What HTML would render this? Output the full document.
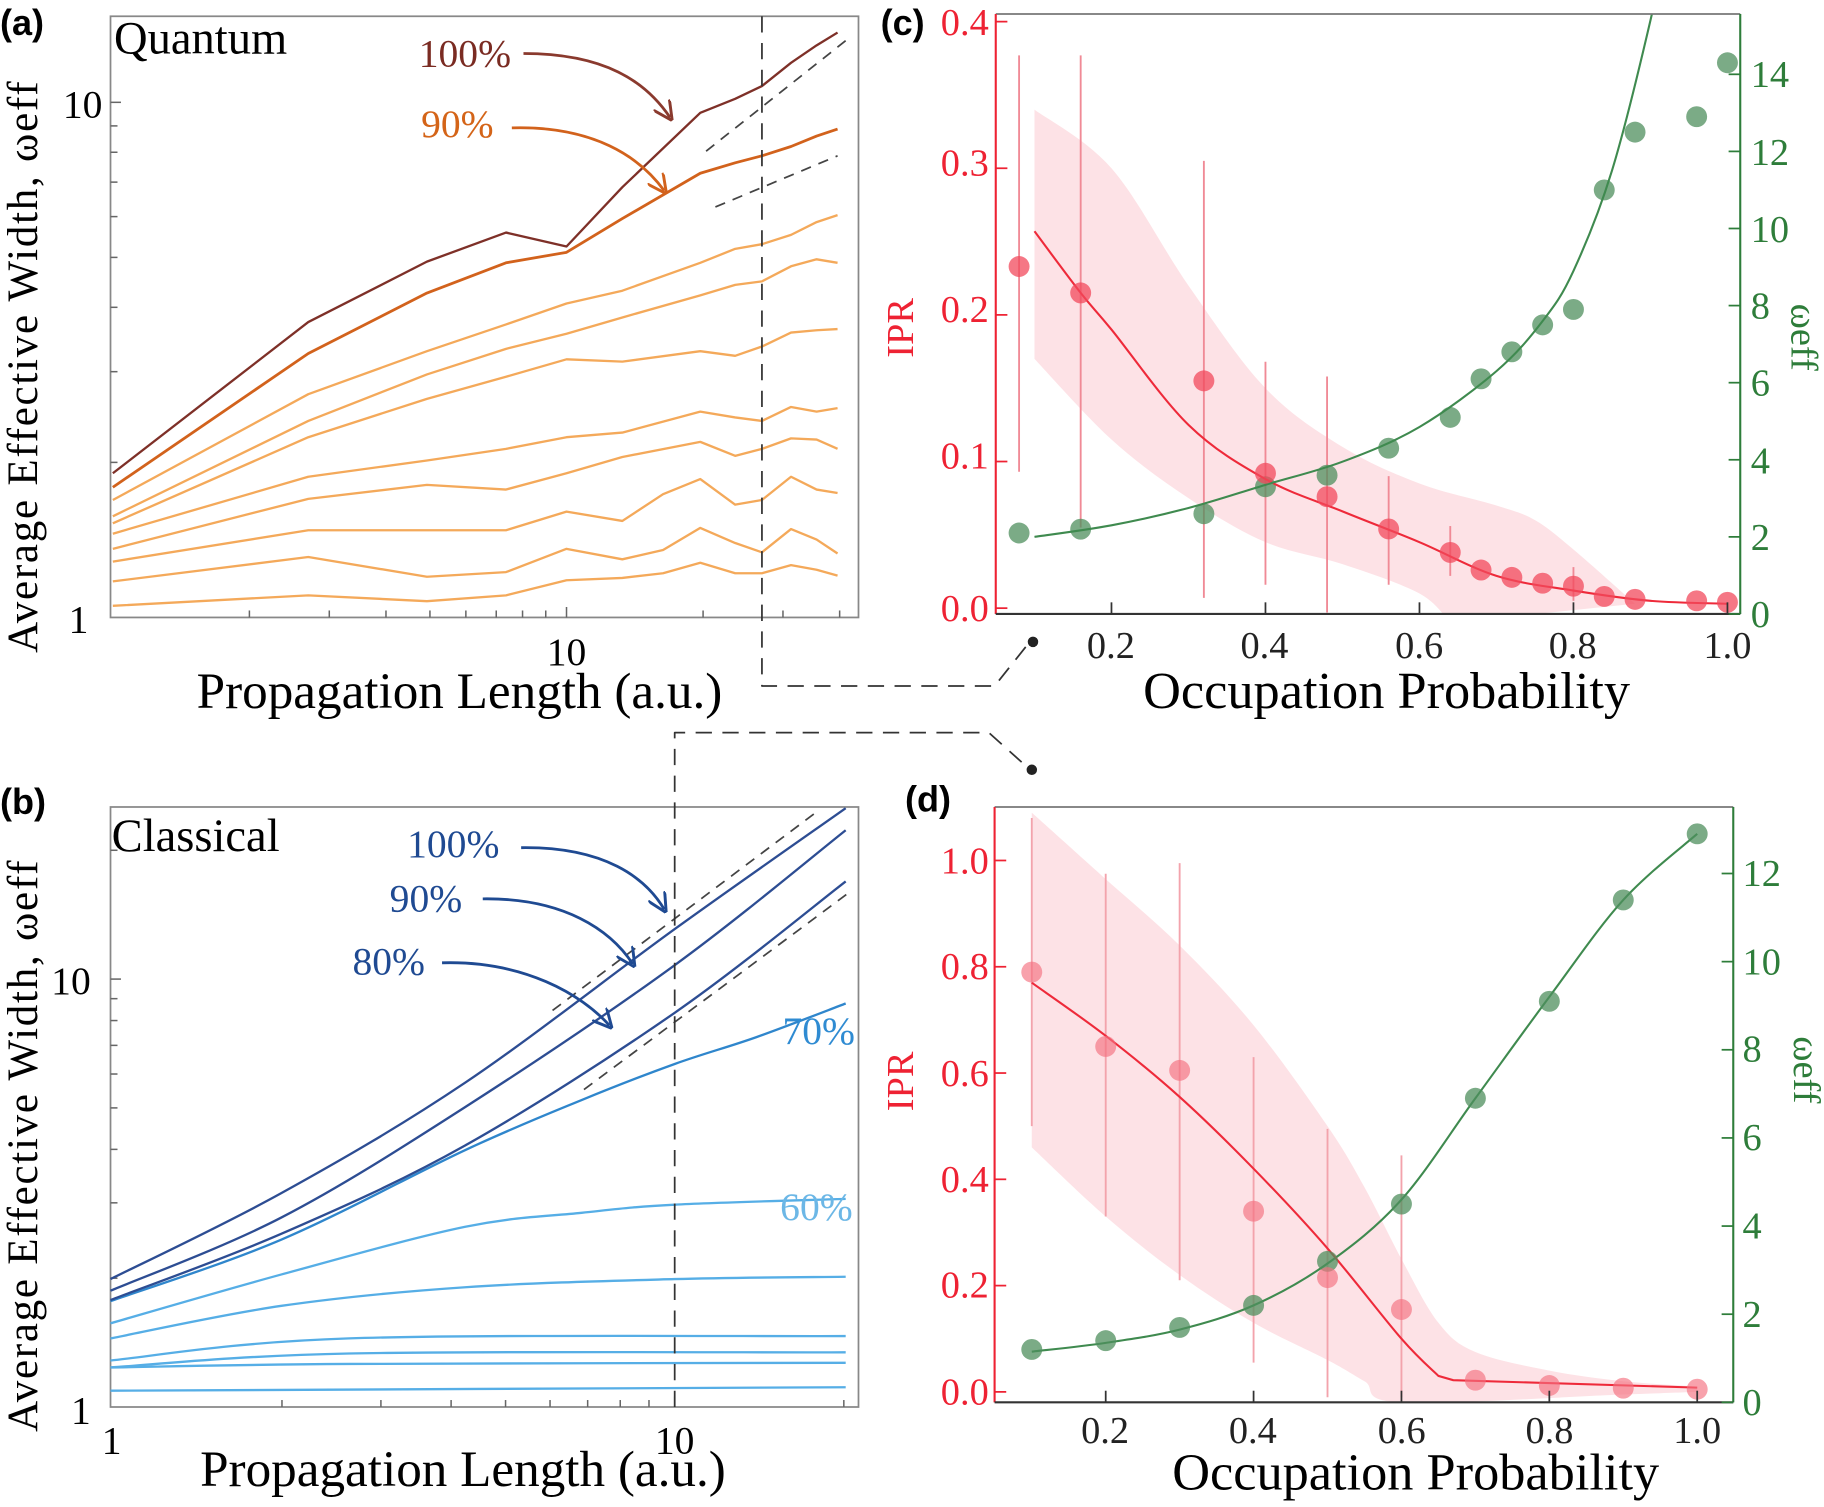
<!DOCTYPE html>
<html><head><meta charset="utf-8">
<style>
html,body{margin:0;padding:0;background:#fff;}
svg{display:block;}
.ser{font-family:"Liberation Serif",serif;}
.sans{font-family:"Liberation Sans",sans-serif;font-weight:bold;}
</style></head>
<body>
<svg id="s" width="1824" height="1507" viewBox="0 0 1568 1296" preserveAspectRatio="none" xmlns="http://www.w3.org/2000/svg">
<defs>
<marker id="arB" viewBox="0 0 10 10" refX="8" refY="5" markerWidth="7" markerHeight="7" orient="auto"><path d="M0,0 L10,5 L0,10" fill="none" stroke="context-stroke" stroke-width="1.5"/></marker>
</defs>
<rect x="0" y="0" width="1568" height="1296" fill="#fff"/>
<g id="g"></g>
<!-- panel labels -->
<text class="sans" x="0" y="30" font-size="31">(a)</text>
<text class="sans" x="757" y="30" font-size="31">(c)</text>
<text class="sans" x="0" y="700" font-size="31">(b)</text>
<text class="sans" x="778" y="698" font-size="31">(d)</text>
<!-- panel a texts -->
<text class="ser" x="98" y="46" font-size="40">Quantum</text>
<text class="ser" x="360" y="57" font-size="34" fill="#7a2b22">100%</text>
<text class="ser" x="362" y="118" font-size="34" fill="#d46418">90%</text>
<text class="ser" x="88" y="101" font-size="34" text-anchor="end">10</text>
<text class="ser" x="76" y="544" font-size="34" text-anchor="end">1</text>
<text class="ser" x="487" y="572" font-size="34" text-anchor="middle">10</text>
<text class="ser" x="395" y="609" font-size="44" text-anchor="middle">Propagation Length (a.u.)</text>
<text class="ser" transform="translate(32,315) rotate(-90)" font-size="37" text-anchor="middle" letter-spacing="1.5">Average Effective Width, ωeff</text>
<!-- panel b texts -->
<text class="ser" x="96" y="732" font-size="40">Classical</text>
<text class="ser" x="350" y="737" font-size="34" fill="#1f4a92">100%</text>
<text class="ser" x="335" y="784" font-size="34" fill="#1f4a92">90%</text>
<text class="ser" x="303" y="838" font-size="34" fill="#1f4a92">80%</text>
<text class="ser" x="735" y="898" font-size="34" fill="#2f8bd2" text-anchor="end">70%</text>
<text class="ser" x="733" y="1049" font-size="34" fill="#6cb7e6" text-anchor="end">60%</text>
<text class="ser" x="78" y="855" font-size="34" text-anchor="end">10</text>
<text class="ser" x="78" y="1224" font-size="34" text-anchor="end">1</text>
<text class="ser" x="96" y="1250" font-size="34" text-anchor="middle">1</text>
<text class="ser" x="580" y="1250" font-size="34" text-anchor="middle">10</text>
<text class="ser" x="398" y="1278" font-size="44" text-anchor="middle">Propagation Length (a.u.)</text>
<text class="ser" transform="translate(32,985) rotate(-90)" font-size="37" text-anchor="middle" letter-spacing="1.5">Average Effective Width, ωeff</text>
<!-- panel c texts -->
<g class="ser" font-size="33" fill="#ee2233" text-anchor="end">
<text x="850" y="30">0.4</text><text x="850" y="151">0.3</text><text x="850" y="277">0.2</text><text x="850" y="403">0.1</text><text x="850" y="534">0.0</text>
</g>
<g class="ser" font-size="33" fill="#2e7d3a">
<text x="1505" y="539">0</text><text x="1505" y="473">2</text><text x="1505" y="407">4</text><text x="1505" y="340">6</text><text x="1505" y="274">8</text><text x="1505" y="208">10</text><text x="1505" y="142">12</text><text x="1505" y="75">14</text>
</g>
<text class="ser" transform="translate(785,282) rotate(-90)" font-size="33" fill="#ee2233" text-anchor="middle">IPR</text>
<text class="ser" transform="translate(1540,290) rotate(90)" font-size="33" fill="#2e7d3a" text-anchor="middle">ωeff</text>
<g class="ser" font-size="33" text-anchor="middle" fill="#222">
<text x="955" y="566">0.2</text><text x="1087" y="566">0.4</text><text x="1220" y="566">0.6</text><text x="1352" y="566">0.8</text><text x="1485" y="566">1.0</text>
</g>
<text class="ser" x="1192" y="609" font-size="45" text-anchor="middle">Occupation Probability</text>
<!-- panel d texts -->
<g class="ser" font-size="33" fill="#ee2233" text-anchor="end">
<text x="850" y="751">1.0</text><text x="850" y="842">0.8</text><text x="850" y="934">0.6</text><text x="850" y="1025">0.4</text><text x="850" y="1116">0.2</text><text x="850" y="1208">0.0</text>
</g>
<g class="ser" font-size="33" fill="#2e7d3a">
<text x="1498" y="1217">0</text><text x="1498" y="1141">2</text><text x="1498" y="1065">4</text><text x="1498" y="989">6</text><text x="1498" y="913">8</text><text x="1498" y="838">10</text><text x="1498" y="762">12</text>
</g>
<text class="ser" transform="translate(785,930) rotate(-90)" font-size="33" fill="#ee2233" text-anchor="middle">IPR</text>
<text class="ser" transform="translate(1542,920) rotate(90)" font-size="33" fill="#2e7d3a" text-anchor="middle">ωeff</text>
<g class="ser" font-size="33" text-anchor="middle" fill="#222">
<text x="950" y="1241">0.2</text><text x="1077" y="1241">0.4</text><text x="1205" y="1241">0.6</text><text x="1332" y="1241">0.8</text><text x="1459" y="1241">1.0</text>
</g>
<text class="ser" x="1217" y="1281" font-size="45" text-anchor="middle">Occupation Probability</text>
</svg>
<script>
var G=document.getElementById('g'),NS='http://www.w3.org/2000/svg';
function el(t,a){var e=document.createElementNS(NS,t);for(var k in a)e.setAttribute(k,a[k]);G.appendChild(e);return e;}
function pl(p,c,w,extra){var d='M'+p.map(function(q){return q[0].toFixed(1)+','+q[1].toFixed(1)}).join(' L');var a={d:d,fill:'none',stroke:c,'stroke-width':w||2,'stroke-linejoin':'round'};for(var k in extra)a[k]=extra[k];return el('path',a);}
function cr(p){var d='M'+p[0][0]+','+p[0][1];for(var i=0;i<p.length-1;i++){var p0=p[i-1]||p[i],p1=p[i],p2=p[i+1],p3=p[i+2]||p2;
d+=' C'+(p1[0]+(p2[0]-p0[0])/6)+','+(p1[1]+(p2[1]-p0[1])/6)+' '+(p2[0]-(p3[0]-p1[0])/6)+','+(p2[1]-(p3[1]-p1[1])/6)+' '+p2[0]+','+p2[1];}return d;}
var dash={'stroke-dasharray':'14,9'};
// ===== Panel A =====
var ax=95,ar=738,at=14,ab=531;
el('rect',{x:ax,y:at,width:ar-ax,height:ab-at,fill:'none',stroke:'#888','stroke-width':1.5});
function xa(v){return 97+390*Math.log10(v);} function ya(v){return 531-443*Math.log10(v);}
for(var i=2;i<=40;i++){if(i>10&&i%10)continue;var L=(i==10)?9:6;el('line',{x1:xa(i),y1:ab,x2:xa(i),y2:ab-L,stroke:'#666','stroke-width':1.3});}
for(var i=2;i<=14;i++){if(i>10&&i%10)continue;var L=(i==10)?9:6;el('line',{x1:ax,y1:ya(i),x2:ax+L,y2:ya(i),stroke:'#666','stroke-width':1.3});}
var X=[97,265,367,435,487,535,602,632,655,680,702,720];
var A=[[407,277,225,200,212,161,97,85,74,54,39,28],[419,304,252,226,217,188,149,140,134,126,117,111],
[430,339,302,279,261,250,226,214,210,202,191,185],[444,362,322,300,287,273,254,245,242,229,223,226],
[450,376,343,324,309,311,302,306,298,286,284,283],[459,410,396,386,376,372,354,359,362,350,354,351],
[472,429,417,421,407,393,380,392,386,377,378,386]];
var XA2=[97,265,367,435,487,535,570,602,632,655,680,702,720];
var A2=[[483,456,456,456,440,448,425,412,434,430,410,421,424],[500,479,496,492,472,481,473,454,467,475,455,464,476],
[521,512,517,512,499,497,493,484,493,493,486,490,495]];
for(var j=6;j>=2;j--)pl(X.map(function(x,i){return[x,A[j][i]]}),'#f4a95a',2);
for(var j=0;j<3;j++)pl(XA2.map(function(x,i){return[x,A2[j][i]]}),'#f4a95a',2);
pl(X.map(function(x,i){return[x,A[1][i]]}),'#d2621c',2.4);
pl(X.map(function(x,i){return[x,A[0][i]]}),'#7e3028',2);
pl([[607,130],[727,35]],'#444',1.5,{'stroke-dasharray':'9,7'});
pl([[615,178],[720,134]],'#444',1.5,{'stroke-dasharray':'9,7'});
el('path',{d:'M450,46 C520,46 555,70 576,101',fill:'none',stroke:'#8a3a2e','stroke-width':2.4,'marker-end':'url(#arB)'});
el('path',{d:'M440,110 C510,108 550,135 571,164',fill:'none',stroke:'#d2621c','stroke-width':2.4,'marker-end':'url(#arB)'});
pl([[655,14],[655,590],[855,590],[882,556]],'#333',1.5,dash);
el('circle',{cx:888,cy:552,r:4.5,fill:'#222'});
// ===== Panel B =====
var bx=95,br=738,bt=694,bb=1210;
el('rect',{x:bx,y:bt,width:br-bx,height:bb-bt,fill:'none',stroke:'#888','stroke-width':1.5});
function xb(v){return 97+483*Math.log10(v);} function yb(v){return 1210-368*Math.log10(v);}
for(var i=2;i<=20;i++){if(i>10&&i%10)continue;var L=(i==10)?9:6;el('line',{x1:xb(i),y1:bb,x2:xb(i),y2:bb-L,stroke:'#666','stroke-width':1.3});}
for(var i=2;i<=20;i++){if(i>10&&i%10)continue;var L=(i==10)?9:6;el('line',{x1:bx,y1:yb(i),x2:bx+L,y2:yb(i),stroke:'#666','stroke-width':1.3});}
var lb=[[[95,1196],[727,1193]],[[95,1176],[300,1173],[727,1172]],[[95,1176],[300,1164],[727,1163]],[[95,1170],[300,1151],[727,1149]],
[[95,1151],[242,1123],[400,1107],[580,1100],[727,1098]],[[95,1138],[242,1096],[400,1055],[500,1043],[580,1036],[727,1031]]];
lb.forEach(function(p){el('path',{d:cr(p),fill:'none',stroke:'#56aee6','stroke-width':2});});
el('path',{d:cr([[95,1119],[242,1066],[400,989],[500,946],[580,915],[650,892],[727,863]]),fill:'none',stroke:'#2f86cc','stroke-width':2});
[[[95,1118],[242,1061],[400,985],[580,871],[727,758]],[[95,1110],[242,1047],[400,952],[580,830],[727,714]],[[95,1100],[242,1026],[400,931],[580,799],[727,695]]].forEach(function(p){el('path',{d:cr(p),fill:'none',stroke:'#2d4d93','stroke-width':2});});
pl([[475,869],[705,696]],'#444',1.5,{'stroke-dasharray':'9,7'});
pl([[502,937],[732,766]],'#444',1.5,{'stroke-dasharray':'9,7'});
el('path',{d:'M448,729 C520,728 555,755 571,782',fill:'none',stroke:'#1f4a92','stroke-width':2.4,'marker-end':'url(#arB)'});
el('path',{d:'M415,773 C485,772 525,800 544,829',fill:'none',stroke:'#1f4a92','stroke-width':2.4,'marker-end':'url(#arB)'});
el('path',{d:'M380,828 C450,826 500,855 524,882',fill:'none',stroke:'#1f4a92','stroke-width':2.4,'marker-end':'url(#arB)'});
pl([[580,1210],[580,630],[850,630],[880,657]],'#333',1.5,dash);
el('circle',{cx:887,cy:662,r:4.5,fill:'#222'});
// ===== Panel C =====
function cx(x){return 823.1+661.9*x;} function cyL(v){return 523-1261*v;} function cyR(w){return 528-33.15*w;}
var ccl=el('clipPath',{id:'cc'});var r1=document.createElementNS(NS,'rect');r1.setAttribute('x',856);r1.setAttribute('y',12);r1.setAttribute('width',640);r1.setAttribute('height',516);ccl.appendChild(r1);
var up=[[0.1,0.34],[0.2,0.3],[0.3,0.22],[0.4,0.15],[0.5,0.11],[0.6,0.085],[0.7,0.07],[0.75,0.06],[0.8,0.04],[0.88,0.003]];
var lo=[[0.64,-0.01],[0.6,0.01],[0.5,0.03],[0.4,0.045],[0.3,0.075],[0.2,0.115],[0.1,0.17]];
el('path',{d:cr(up.map(function(q){return[cx(q[0]),cyL(q[1])]}))+' L'+cr(lo.map(function(q){return[cx(q[0]),cyL(q[1])]})).slice(1)+' Z',fill:'#fde2e6','clip-path':'url(#cc)'});
var red=[[0.08,0.233],[0.16,0.215],[0.32,0.155],[0.40,0.092],[0.48,0.076],[0.56,0.054],[0.64,0.038],[0.68,0.026],[0.72,0.021],[0.76,0.017],[0.80,0.015],[0.84,0.008],[0.88,0.006],[0.96,0.005],[1.0,0.004]];
var eb=[[0.08,0.377,0.093],[0.16,0.377,0.055],[0.32,0.305,0.007],[0.40,0.168,0.016],[0.48,0.158,-0.003],[0.56,0.09,0.016],[0.64,0.056,0.022],[0.80,0.028,0.005]];
eb.forEach(function(e){el('line',{x1:cx(e[0]),x2:cx(e[0]),y1:cyL(e[1]),y2:cyL(e[2]),stroke:'#f08a96','stroke-width':1.6});});
var grn=[[0.08,2.1],[0.16,2.2],[0.32,2.6],[0.40,3.3],[0.48,3.6],[0.56,4.3],[0.64,5.1],[0.68,6.1],[0.72,6.8],[0.76,7.5],[0.80,7.9],[0.84,11.0],[0.88,12.5],[0.96,12.9],[1.0,14.3]];
grn.forEach(function(q){el('circle',{cx:cx(q[0]),cy:cyR(q[1]),r:9,fill:'#4f8f5e','fill-opacity':0.75});});
el('path',{d:cr([[0.1,0.257],[0.16,0.215],[0.2,0.19],[0.3,0.125],[0.4,0.088],[0.5,0.066],[0.6,0.045],[0.7,0.022],[0.8,0.012],[0.9,0.005],[1.0,0.003]].map(function(q){return[cx(q[0]),cyL(q[1])]})),fill:'none',stroke:'#ee2a3a','stroke-width':1.8});
el('path',{d:cr([[0.1,2.0],[0.2,2.3],[0.3,2.75],[0.4,3.35],[0.5,3.95],[0.6,4.85],[0.7,6.3],[0.76,7.6],[0.8,8.9],[0.85,11.5],[0.9,15.4],[0.92,17.5]].map(function(q){return[cx(q[0]),cyR(q[1])]})),fill:'none',stroke:'#3f8a4f','stroke-width':1.8,'clip-path':'url(#cc)'});
red.forEach(function(q){el('circle',{cx:cx(q[0]),cy:cyL(q[1]),r:9,fill:'#f24a5c','fill-opacity':0.75});});
el('line',{x1:856,y1:12,x2:1496,y2:12,stroke:'#777','stroke-width':1.5});
el('line',{x1:856,y1:12,x2:856,y2:528,stroke:'#ee2233','stroke-width':1.8});
el('line',{x1:1496,y1:12,x2:1496,y2:528,stroke:'#2e7d3a','stroke-width':1.8});
el('line',{x1:856,y1:528,x2:1496,y2:528,stroke:'#333','stroke-width':1.8});
[0.2,0.4,0.6,0.8,1.0].forEach(function(v){el('line',{x1:cx(v),x2:cx(v),y1:528,y2:518,stroke:'#333','stroke-width':1.5});});
[0,0.1,0.2,0.3,0.4].forEach(function(v){el('line',{x1:856,x2:866,y1:cyL(v),y2:cyL(v),stroke:'#ee2233','stroke-width':1.5});});
[0,2,4,6,8,10,12,14].forEach(function(v){el('line',{x1:1486,x2:1496,y1:cyR(v),y2:cyR(v),stroke:'#2e7d3a','stroke-width':1.5});});
// ===== Panel D =====
function dx(x){return 823.4+635.6*x;} function dyL(v){return 1197-457*v;} function dyR(w){return 1206-37.9*w;}
var dcl=el('clipPath',{id:'dc'});var r2=document.createElementNS(NS,'rect');r2.setAttribute('x',855);r2.setAttribute('y',694);r2.setAttribute('width',635);r2.setAttribute('height',512);dcl.appendChild(r2);
var up2=[[0.1,1.09],[0.2,0.965],[0.3,0.84],[0.4,0.69],[0.5,0.5],[0.55,0.385],[0.6,0.25],[0.65,0.13],[0.7,0.075],[0.8,0.04],[0.9,0.02],[1.0,0.01]];
var lo2=[[1.0,0.0],[0.9,-0.005],[0.6,-0.02],[0.55,0.02],[0.5,0.06],[0.4,0.13],[0.3,0.22],[0.2,0.33],[0.1,0.46]];
el('path',{d:cr(up2.map(function(q){return[dx(q[0]),dyL(q[1])]}))+' L'+cr(lo2.map(function(q){return[dx(q[0]),dyL(q[1])]})).slice(1)+' Z',fill:'#fde2e6','clip-path':'url(#dc)'});
[[0.1,1.08,0.5],[0.2,0.975,0.33],[0.3,0.995,0.21],[0.4,0.63,0.055],[0.5,0.495,-0.01],[0.6,0.445,-0.01]].forEach(function(e){el('line',{x1:dx(e[0]),x2:dx(e[0]),y1:dyL(e[1]),y2:dyL(e[2]),stroke:'#f3a3ac','stroke-width':1.6});});
var g2=[[0.1,1.2],[0.2,1.4],[0.3,1.7],[0.4,2.2],[0.5,3.2],[0.6,4.5],[0.7,6.9],[0.8,9.1],[0.9,11.4],[1.0,12.9]];
el('path',{d:cr([[0.1,1.15],[0.2,1.35],[0.3,1.65],[0.4,2.2],[0.5,3.15],[0.6,4.6],[0.7,6.9],[0.8,9.2],[0.9,11.4],[1.0,12.9]].map(function(q){return[dx(q[0]),dyR(q[1])]})),fill:'none',stroke:'#3f8a4f','stroke-width':1.8});
el('path',{d:cr([[0.1,0.77],[0.2,0.67],[0.3,0.555],[0.4,0.42],[0.5,0.27],[0.6,0.1],[0.65,0.03]].map(function(q){return[dx(q[0]),dyL(q[1])]}))+' L'+dx(0.67)+','+dyL(0.022)+' L'+dx(1.0)+','+dyL(0.008),fill:'none',stroke:'#ee2a3a','stroke-width':1.8});
g2.forEach(function(q){el('circle',{cx:dx(q[0]),cy:dyR(q[1]),r:9,fill:'#4f8f5e','fill-opacity':0.75});});
[[0.1,0.79],[0.2,0.65],[0.3,0.605],[0.4,0.34],[0.5,0.215],[0.6,0.155],[0.7,0.022],[0.8,0.012],[0.9,0.007],[1.0,0.005]].forEach(function(q){el('circle',{cx:dx(q[0]),cy:dyL(q[1]),r:9,fill:'#f47080','fill-opacity':0.65});});
el('line',{x1:855,y1:694,x2:1490,y2:694,stroke:'#777','stroke-width':1.5});
el('line',{x1:855,y1:694,x2:855,y2:1206,stroke:'#ee2233','stroke-width':1.8});
el('line',{x1:1490,y1:694,x2:1490,y2:1206,stroke:'#2e7d3a','stroke-width':1.8});
el('line',{x1:855,y1:1206,x2:1490,y2:1206,stroke:'#333','stroke-width':1.8});
[0.2,0.4,0.6,0.8,1.0].forEach(function(v){el('line',{x1:dx(v),x2:dx(v),y1:1206,y2:1196,stroke:'#333','stroke-width':1.5});});
[0,0.2,0.4,0.6,0.8,1.0].forEach(function(v){el('line',{x1:855,x2:865,y1:dyL(v),y2:dyL(v),stroke:'#ee2233','stroke-width':1.5});});
[0,2,4,6,8,10,12].forEach(function(v){el('line',{x1:1480,x2:1490,y1:dyR(v),y2:dyR(v),stroke:'#2e7d3a','stroke-width':1.5});});
</script>
</body></html>
